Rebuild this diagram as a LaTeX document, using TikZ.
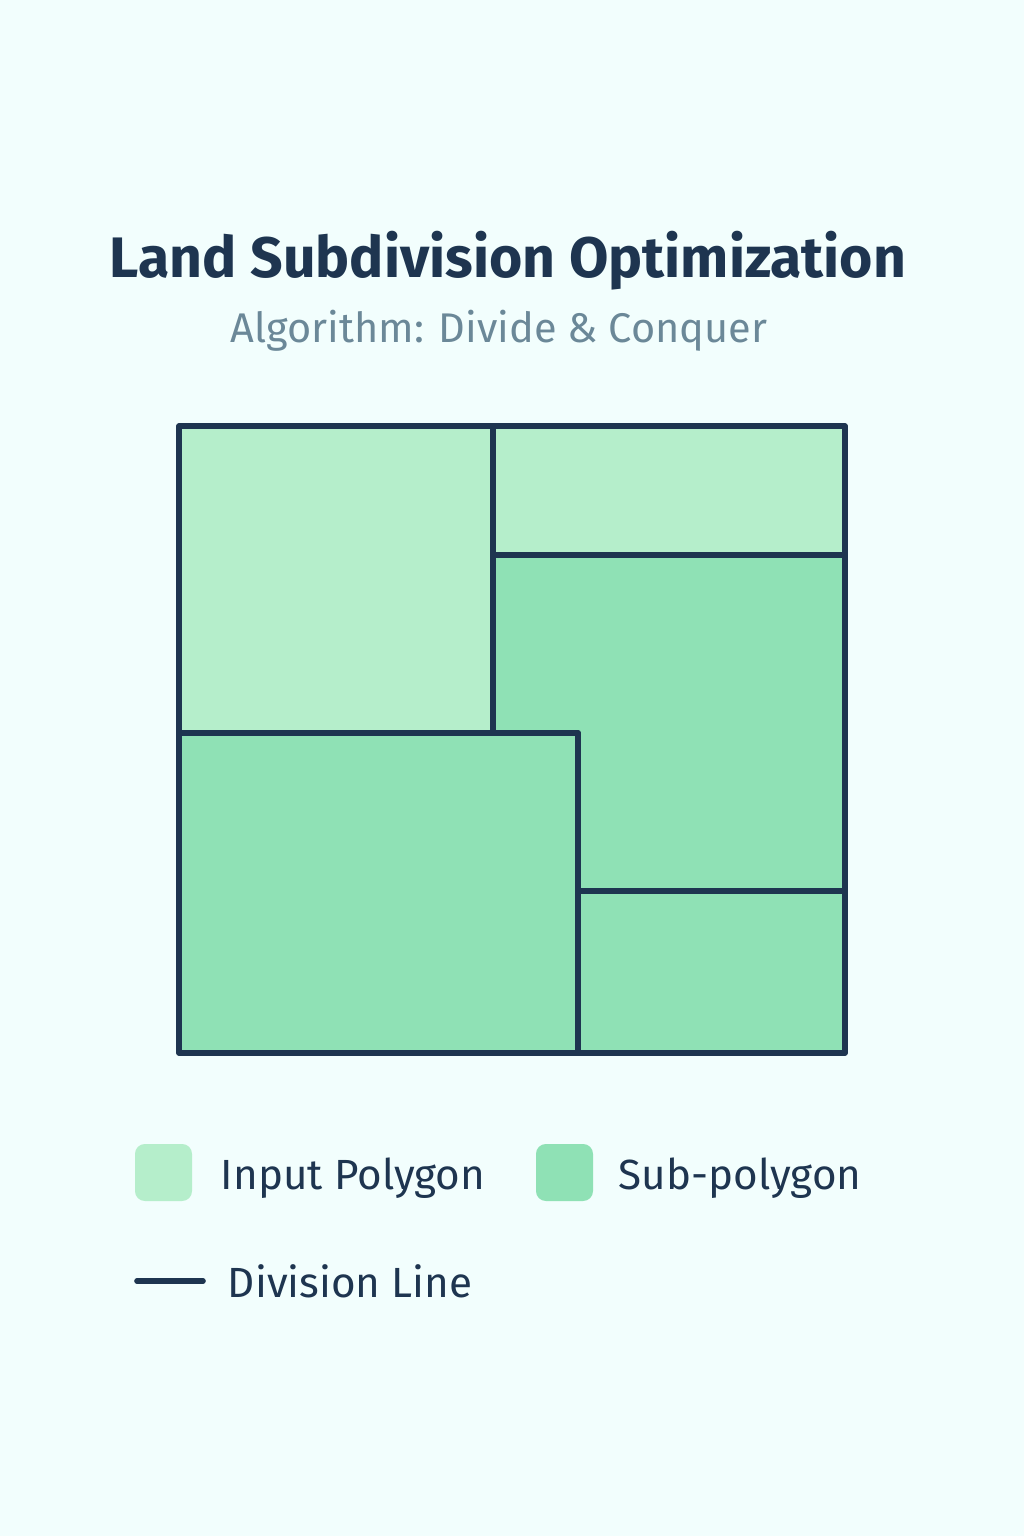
\documentclass[tikz,border=0pt]{standalone}
\usepackage{fontspec}
\setmainfont{Fira Sans}
\usepackage{tikz}
\usetikzlibrary{positioning}
\definecolor{bgcol}{HTML}{F2FEFD}
\definecolor{inputgreen}{HTML}{B5EECB}
\definecolor{subgreen}{HTML}{8FE1B5}
\definecolor{linecol}{HTML}{1E3550}
\definecolor{subtitlecol}{HTML}{6B8898}
\tikzset{
  parcel/.style={line width=4pt,draw=linecol,line join=round},
  divline/.style={line width=4pt,draw=linecol,line cap=round},
  swatch/.style={rounded corners=7pt},
  legendtext/.style={anchor=west,text=linecol,font=\fontsize{30}{36}\selectfont}
}
\begin{document}
\begin{tikzpicture}[x=0.025cm,y=-0.025cm]
			\fill[bgcol] (0,0) rectangle (1024,1536);
			\useasboundingbox (0,0) rectangle (1024,1536);
			\node (title) [text=linecol,font=\fontsize{40.6}{48}\selectfont\bfseries] at (508,261) {Land Subdivision Optimization};
			\node (subtitle) [text=subtitlecol,font=\fontsize{29.5}{36}\selectfont] at (499,331) {Algorithm: Divide \& Conquer};
			% parcels
			\fill[inputgreen] (179,426) rectangle (493,733);
			\fill[inputgreen] (493,426) rectangle (845,555);
			\fill[subgreen] (493,555) rectangle (845,891);
			\fill[subgreen] (179,733) rectangle (578,1053);
			\fill[subgreen] (578,891) rectangle (845,1053);
			% division lines
			\draw[divline] (493,426) -- (493,733);
			\draw[divline] (493,555) -- (845,555);
			\draw[divline] (179,733) -- (578,733);
			\draw[divline] (578,733) -- (578,1053);
			\draw[divline] (578,891) -- (845,891);
			\draw[parcel] (179,426) rectangle (845,1053);
			% legend
			\fill[inputgreen,swatch] (135,1144) rectangle (192,1201);
			\node (inputlabel) [legendtext] at (216,1178) {Input Polygon};
			\fill[subgreen,swatch] (536,1144) rectangle (593,1201);
			\node (sublabel) [legendtext] at (614,1178) {Sub-polygon};
			\coordinate (lineA) at (137,1281);
			\coordinate (lineB) at (203,1281);
			\draw[divline] (lineA) -- (lineB);
			\node (linelabel) [legendtext] at (223,1281) {Division Line};
		\end{tikzpicture}
\end{document}
